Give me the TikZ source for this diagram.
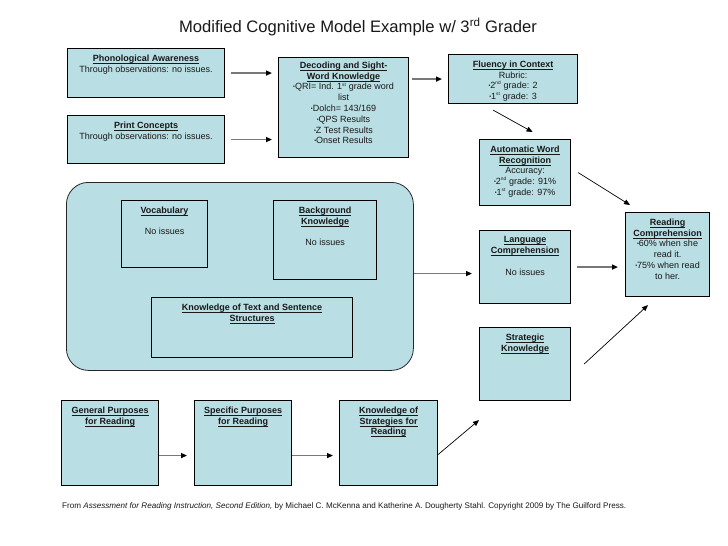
\documentclass[tikz,border=0pt]{standalone}
\usepackage{fontspec}
\usepackage{graphicx}
\setmainfont{Liberation Sans}
\usetikzlibrary{arrows.meta,calc}
\definecolor{boxfill}{RGB}{185,222,227}
\definecolor{txt}{RGB}{25,25,25}
\definecolor{arrgray}{RGB}{120,120,120}
\newcommand{\hd}[1]{\textbf{\underline{\raisebox{0pt}[\height][0.4pt]{#1}}}}
\newcommand{\bul}{\raisebox{0.2ex}{\scalebox{0.6}{•}}}
\newcommand{\sups}[1]{\textsuperscript{\scalebox{0.8}{#1}}}
\tikzset{
  box/.style={draw=black, line width=1.1pt, fill=boxfill, anchor=north west, inner sep=0pt},
  lbl/.style={anchor=north, inner sep=0pt, align=center, font=\fontsize{9}{10.8}\selectfont, text=txt},
  harr/.style={draw=arrgray, line width=1.4pt, -{Triangle[length=6pt,width=5pt,black]}},
  darr/.style={draw=black, line width=0.7pt, -{Triangle[length=6pt,width=5pt,black]}},
}
\begin{document}
\begin{tikzpicture}[x=1pt,y=-1pt]
\useasboundingbox (0,0) rectangle (728,546);
\fill[white] (0,0) rectangle (728,546);

% title
\node[font=\fontsize{16.6}{20}\selectfont, text=txt, inner sep=0pt] (title) at (358,27)
  {Modified Cognitive Model Example w/ 3\textsuperscript{rd} Grader};

% big rounded container
\node[draw=black!85, line width=0.8pt, fill=boxfill, rounded corners=22pt, anchor=north west,
  minimum width=347pt, minimum height=188pt, inner sep=0pt] (big) at (66,182) {};

% boxes
\node[box, minimum width=157pt, minimum height=49pt] (phon) at (67,48) {};
\node[box, minimum width=157pt, minimum height=48pt] (print) at (67,115) {};
\node[box, minimum width=130pt, minimum height=100pt] (dec) at (278,57) {};
\node[box, minimum width=129pt, minimum height=49pt] (flu) at (448,54) {};
\node[box, minimum width=91pt, minimum height=66pt] (awr) at (479,139) {};
\node[box, minimum width=84pt, minimum height=84pt] (rc) at (625,212) {};
\node[box, minimum width=91pt, minimum height=73pt] (lc) at (479,230) {};
\node[box, minimum width=91pt, minimum height=73pt] (sk) at (479,327) {};
\node[box, minimum width=86pt, minimum height=67pt] (voc) at (121,200) {};
\node[box, minimum width=103pt, minimum height=79pt] (bg) at (273,200) {};
\node[box, minimum width=201pt, minimum height=60pt] (kot) at (151,297) {};
\node[box, minimum width=97pt, minimum height=85pt] (gen) at (61,400) {};
\node[box, minimum width=97pt, minimum height=85pt] (spec) at (194,400) {};
\node[box, minimum width=98pt, minimum height=85pt] (ks) at (339,400) {};

% texts
\node[lbl] (phon-t) at ([yshift=-6.5pt]phon.north) {\hd{Phonological Awareness}\\Through observations: no issues.};
\node[lbl] (print-t) at ([yshift=-6.5pt]print.north) {\hd{Print Concepts}\\Through observations: no issues.};
\node[lbl] (dec-t) at ([yshift=-4.5pt]dec.north) {\hd{Decoding and Sight-}\\\hd{Word Knowledge}\\
  \bul QRI= Ind. 1\sups{st} grade word\\list\\\bul Dolch= 143/169\\\bul QPS Results\\\bul Z Test Results\\\bul Onset Results};
\node[lbl] (flu-t) at ([yshift=-6.5pt]flu.north) {\hd{Fluency in Context}\\Rubric:\\\bul 2\sups{nd} grade: 2\\\bul 1\sups{st} grade: 3};
\node[lbl] (awr-t) at ([yshift=-6.5pt]awr.north) {\hd{Automatic Word}\\\hd{Recognition}\\Accuracy:\\\bul 2\sups{nd} grade: 91\%\\\bul 1\sups{st} grade: 97\%};
\node[lbl] (rc-t) at ([yshift=-6.5pt]rc.north) {\hd{Reading}\\\hd{Comprehension}\\\bul 60\% when she\\read it.\\\bul 75\% when read\\to her.};
\node[lbl] (lc-t) at ([yshift=-6.5pt]lc.north) {\hd{Language}\\\hd{Comprehension}\\[10.8pt]No issues};
\node[lbl] (sk-t) at ([yshift=-6.5pt]sk.north) {\hd{Strategic}\\\hd{Knowledge}};
\node[lbl] (voc-t) at ([yshift=-6.5pt]voc.north) {\hd{Vocabulary}\\[10.8pt]No issues};
\node[lbl] (bg-t) at ([yshift=-6.5pt]bg.north) {\hd{Background}\\\hd{Knowledge}\\[10.8pt]No issues};
\node[lbl] (kot-t) at ([yshift=-6.5pt]kot.north) {\hd{Knowledge of Text and Sentence}\\\hd{Structures}};
\node[lbl] (gen-t) at ([yshift=-6.5pt]gen.north) {\hd{General Purposes}\\\hd{for Reading}};
\node[lbl] (spec-t) at ([yshift=-6.5pt]spec.north) {\hd{Specific Purposes}\\\hd{for Reading}};
\node[lbl] (ks-t) at ([yshift=-6.5pt]ks.north) {\hd{Knowledge of}\\\hd{Strategies for}\\\hd{Reading}};

% arrows
\draw[harr, shorten <=6pt, shorten >=6pt] (phon.east) -- (phon.east -| dec.west);
\draw[harr, shorten <=6pt, shorten >=6pt] (print.east) -- (print.east -| dec.west);
\draw[harr, shorten <=3pt, shorten >=6pt] (flu.west -| dec.east) -- (flu.west);
\draw[darr] ($(flu.south)+(-20,6)$) -- ($(awr.north)+(7.5,-7)$);
\draw[darr] ($(awr.east)+(7,0)$) -- ($(rc.north west)+(5,-7)$);
\draw[harr, shorten <=6pt, shorten >=7pt] (lc.east) -- (lc.east -| rc.west);
\draw[darr] ($(sk.east)+(13,0)$) -- ($(rc.south west)+(23,8)$);
\coordinate (bl) at ($(lc.west)+(-7,6.5)$);
\draw[harr] (big.east |- bl) -- (bl);
\coordinate (g1) at ($(gen.east)+(0,12.5)$);
\draw[harr, shorten >=7pt] (g1) -- (g1 -| spec.west);
\coordinate (s1) at ($(spec.east)+(0,12.5)$);
\draw[harr, shorten >=6pt] (s1) -- (s1 -| ks.west);
\draw[darr] ($(ks.east)+(0,11.5)$) -- ($(sk.south west)+(0,19)$);

% footer
\node[anchor=west, inner sep=0pt, font=\fontsize{8.1}{9.5}\selectfont, text=txt] (foot) at (62,506)
  {From \textit{Assessment for Reading Instruction, Second Edition,} by Michael C. McKenna and Katherine A. Dougherty Stahl. Copyright 2009 by The Guilford Press.};
\end{tikzpicture}
\end{document}
